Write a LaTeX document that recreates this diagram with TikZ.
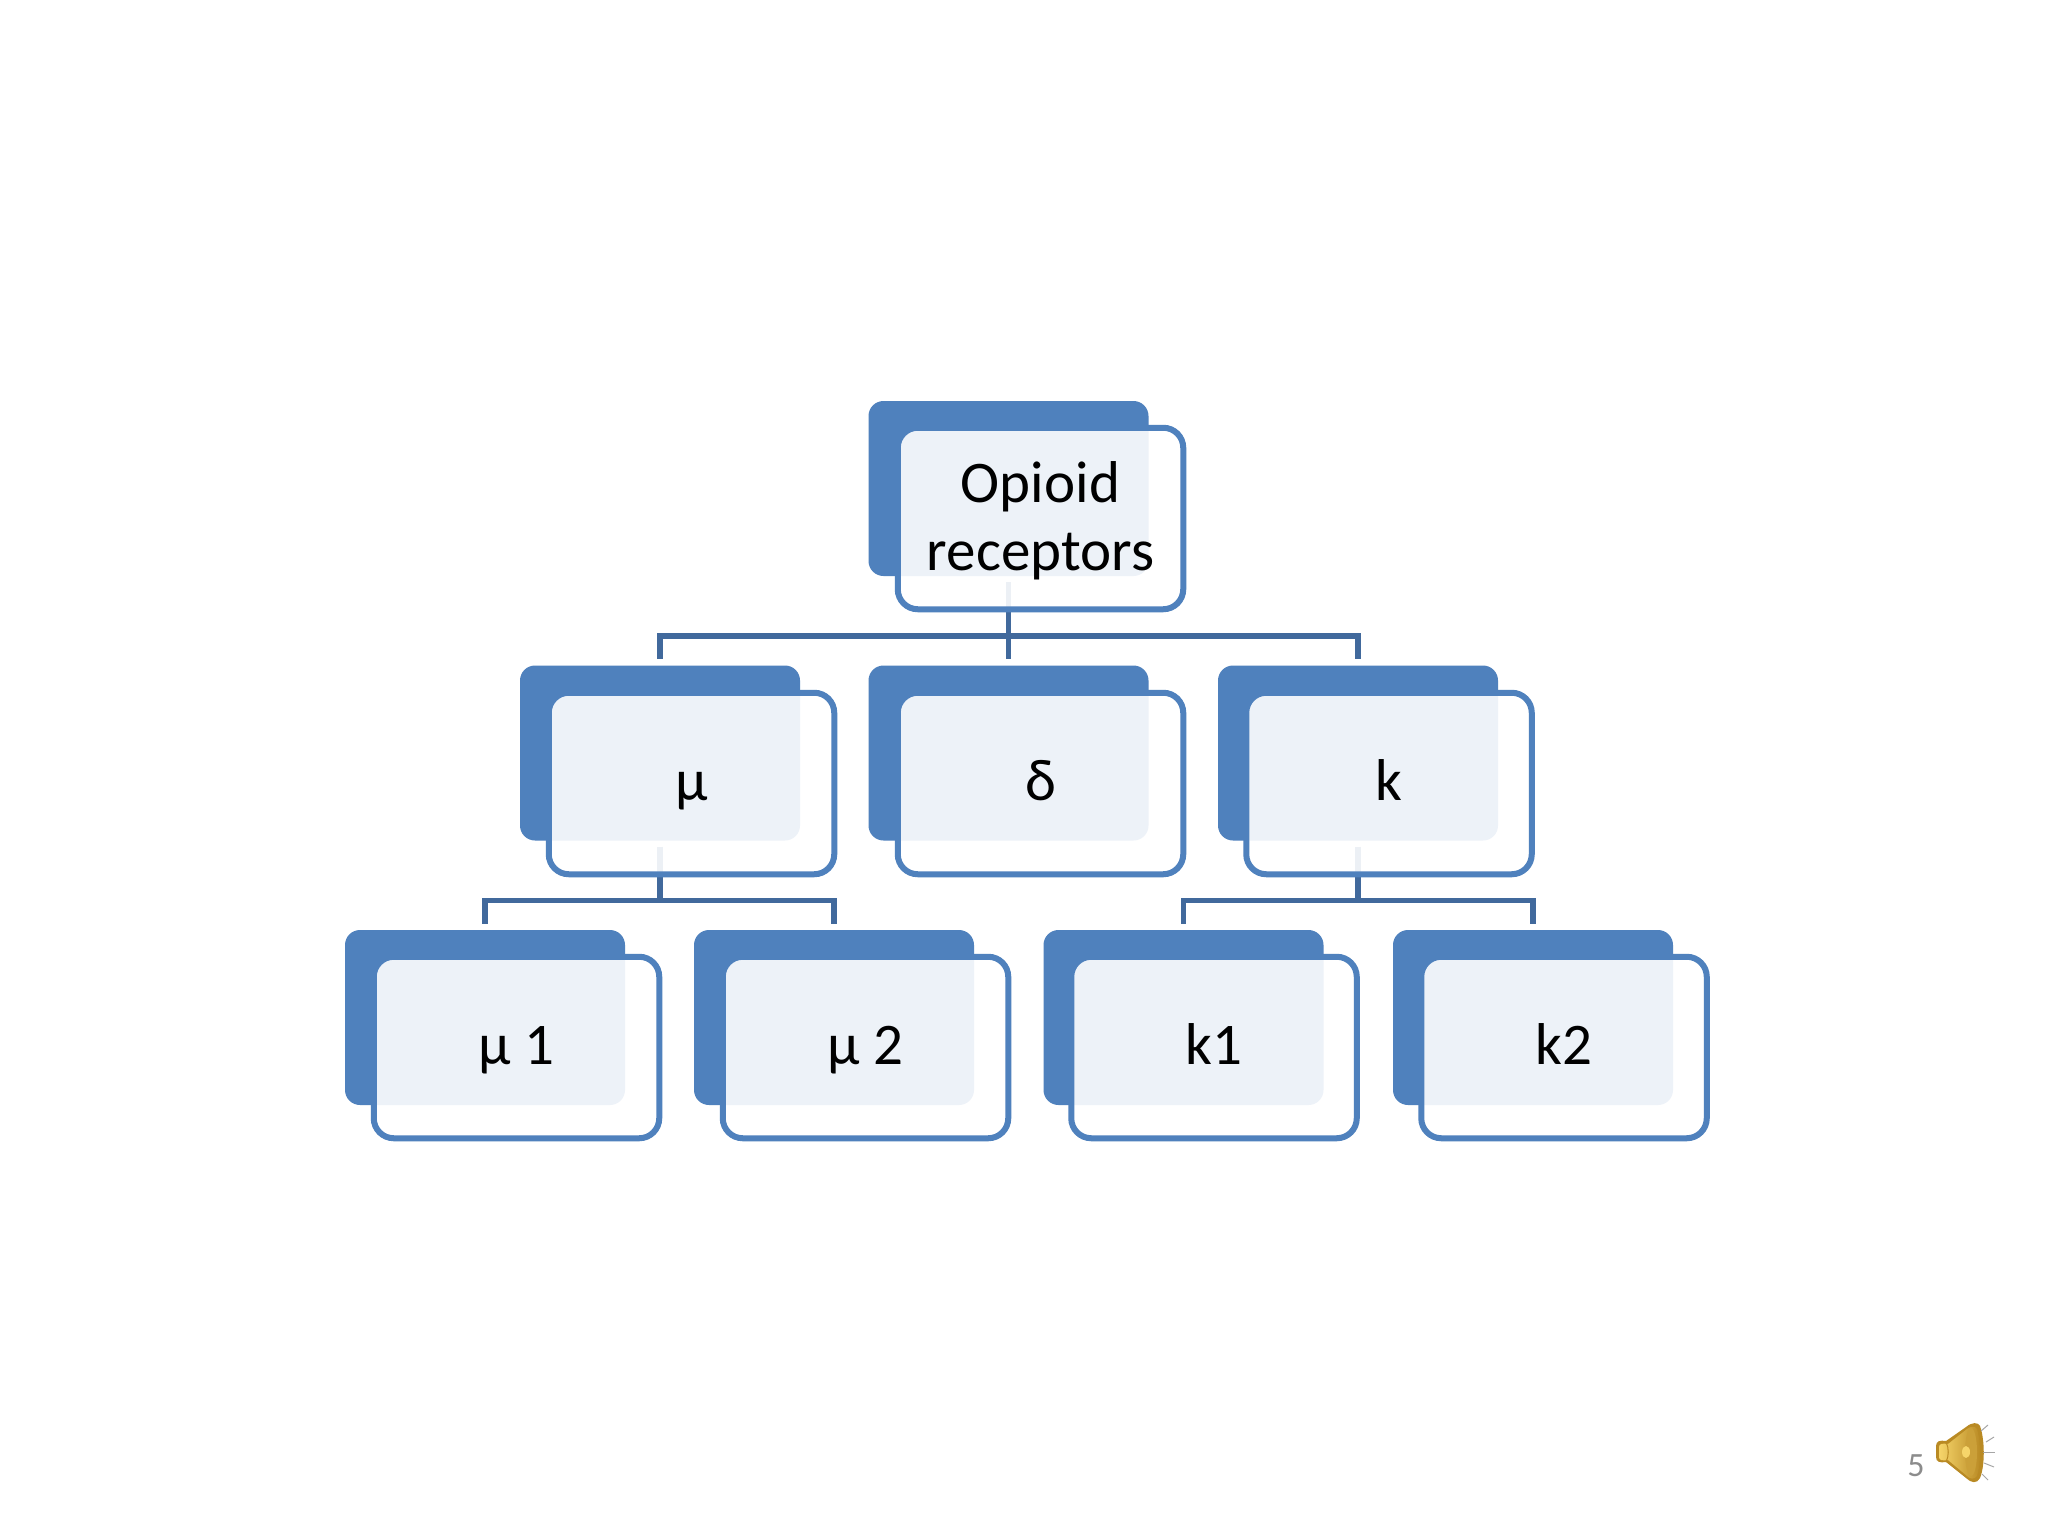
\documentclass[tikz,border=0pt]{standalone}
\usepackage{fontspec}
\setmainfont{Carlito}
\tikzset{
  backbox/.style={rectangle,rounded corners=15pt,fill=boxblue,minimum width=280pt,minimum height=175pt,inner sep=0pt},
  frontbox/.style={rectangle,rounded corners=20pt,draw=boxblue,line width=6pt,fill=white,fill opacity=0.9,text opacity=1,minimum width=285.5pt,minimum height=181.5pt,inner sep=0pt,font=\fontsize{59}{68}\selectfont,text=black,align=center,text height=33pt,text depth=0pt},
  tallbox/.style={frontbox,text height=104pt},
  conn/.style={draw=connblue,line width=5.5pt},
  ray/.style={draw=gray!70,line width=1pt}
}
\definecolor{boxblue}{HTML}{4F81BD}
\definecolor{connblue}{HTML}{41699C}
\definecolor{gold1}{HTML}{F6D56A}
\definecolor{gold2}{HTML}{B98A24}
\begin{document}
\begin{tikzpicture}[x=1pt,y=-1pt]
\path[use as bounding box,fill=white] (0,0) rectangle (2048,1536);
% back panels
\node[backbox] (rb) at (1008.5,488.5) {};
\node[backbox] (mb) at (660,753) {};
\node[backbox] (db) at (1008.5,753) {};
\node[backbox] (kb) at (1358,753) {};
\node[backbox] (m1b) at (485,1017.5) {};
\node[backbox] (m2b) at (834,1017.5) {};
\node[backbox] (k1b) at (1183.5,1017.5) {};
\node[backbox] (k2b) at (1533,1017.5) {};
% connectors
\draw[conn] ([yshift=-6pt]rb.south) -- ([yshift=6pt]db.north);
\draw[conn] ([yshift=-60pt]rb.south) -| ([yshift=6pt]mb.north);
\draw[conn] ([yshift=-60pt]rb.south) -| ([yshift=6pt]kb.north);
\draw[conn] ([yshift=-6pt]mb.south) -- ([yshift=-60pt]mb.south);
\draw[conn] ([yshift=-60pt]mb.south) -| ([yshift=6pt]m1b.north);
\draw[conn] ([yshift=-60pt]mb.south) -| ([yshift=6pt]m2b.north);
\draw[conn] ([yshift=-6pt]kb.south) -- ([yshift=-60pt]kb.south);
\draw[conn] ([yshift=-60pt]kb.south) -| ([yshift=6pt]k1b.north);
\draw[conn] ([yshift=-60pt]kb.south) -| ([yshift=6pt]k2b.north);
% front panels
\node[tallbox] (r) at (1040.5,518.5) {Opioid\\receptors};
\node[frontbox] (m) at (691.5,783.5) {μ};
\node[frontbox] (d) at (1040.5,783.5) {δ};
\node[frontbox] (k) at (1389,783.5) {k};
\node[frontbox] (m1) at (516.5,1047.5) {μ 1};
\node[frontbox] (m2) at (865.5,1047.5) {μ 2};
\node[frontbox] (k1) at (1214,1047.5) {k1};
\node[frontbox] (k2) at (1564,1047.5) {k2};
% slide number
\node[text=gray!90,font=\fontsize{34}{40}\selectfont,inner sep=0pt] (num) at (1916,1466) {5};
% speaker
\begin{scope}
\fill[gold2] (1936,1446) .. controls (1936,1441) and (1940,1440) .. (1946,1441)
  -- (1966,1427) .. controls (1972,1422) and (1978,1422) .. (1980,1426)
  .. controls (1985,1440) and (1985,1466) .. (1980,1478)
  .. controls (1977,1484) and (1971,1483) .. (1966,1478)
  -- (1946,1462) .. controls (1940,1463) and (1936,1462) .. (1936,1457) -- cycle;
\shade[left color=gold1,right color=gold2] (1939,1447) .. controls (1939,1444) and (1942,1443) .. (1948,1444)
  -- (1967,1429) .. controls (1971,1426) and (1975,1426) .. (1977,1429)
  .. controls (1981,1442) and (1981,1464) .. (1977,1476)
  .. controls (1974,1480) and (1970,1479) .. (1967,1476)
  -- (1948,1460) .. controls (1942,1461) and (1939,1460) .. (1939,1457) -- cycle;
\draw[gold2,line width=1pt] (1946,1442) .. controls (1949,1448) and (1949,1456) .. (1946,1462);
\fill[gold2!70!gold1] (1971,1452) ellipse (6pt and 24pt);
\fill[gold1] (1966,1452) ellipse (4pt and 6pt);
\draw[ray] (1981,1431) -- (1988,1425);
\draw[ray] (1986,1442) -- (1994,1437);
\draw[ray] (1983,1452) -- (1995,1452);
\draw[ray] (1984,1463) -- (1994,1467);
\draw[ray] (1982,1474) -- (1988,1480);
\end{scope}
\end{tikzpicture}
\end{document}
